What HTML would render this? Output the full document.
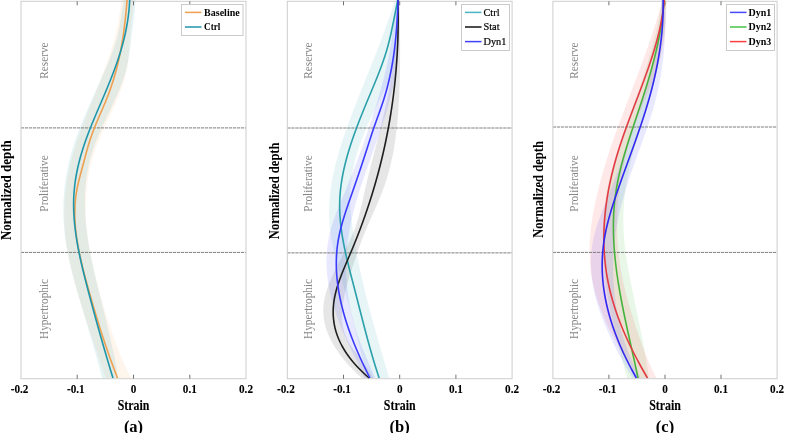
<!DOCTYPE html>
<html><head><meta charset="utf-8"><style>
html,body{margin:0;padding:0;background:#fff;width:785px;height:433px;overflow:hidden}
svg{display:block;filter:blur(0.35px)}
text{font-family:"Liberation Serif","Times New Roman",serif}
.tl{font-size:11.2px;font-weight:bold;text-anchor:middle;fill:#000;stroke:#000;stroke-width:0.08px}
.xl{font-size:11.9px;font-weight:bold;text-anchor:middle;fill:#000;stroke:#000;stroke-width:0.1px}
.pl{font-size:16.5px;font-weight:bold;text-anchor:middle;fill:#000}
.lg{font-size:10px;font-weight:bold;fill:#000}
.lgr{font-size:10.3px;fill:#000;stroke:#000;stroke-width:0.2px}
.yl{font-size:14.5px;font-weight:bold;text-anchor:middle;fill:#000;stroke:#000;stroke-width:0.05px}
.rl{font-size:12.8px;text-anchor:middle;fill:#858585}
</style></head><body>
<svg width="785" height="433" viewBox="0 0 785 433">
<rect width="785" height="433" fill="#fff"/>
<path d="M120.94 0.00L120.82 2.00L120.67 4.00L120.49 6.00L120.29 8.00L120.07 10.00L119.82 12.00L119.55 14.00L119.26 16.00L118.94 18.00L118.61 20.00L118.25 22.00L117.87 24.00L117.47 26.00L117.05 28.00L116.62 30.00L116.16 32.00L115.69 34.00L115.19 36.00L114.68 38.00L114.15 40.00L113.61 42.00L113.05 44.00L112.47 46.00L111.88 48.00L111.28 50.00L110.66 52.00L110.03 54.00L109.38 56.00L108.72 58.00L108.05 60.00L107.36 62.00L106.67 64.00L105.96 66.00L105.24 68.00L104.52 70.00L103.78 72.00L103.03 74.00L102.28 76.00L101.52 78.00L100.75 80.00L99.97 82.00L99.19 84.00L98.40 86.00L97.61 88.00L96.82 90.00L96.02 92.00L95.22 94.00L94.42 96.00L93.62 98.00L92.81 100.00L92.01 102.00L91.20 104.00L90.40 106.00L89.60 108.00L88.81 110.00L88.01 112.00L87.22 114.00L86.44 116.00L85.66 118.00L84.89 120.00L84.12 122.00L83.36 124.00L82.61 126.00L81.86 128.00L81.13 130.00L80.40 132.00L79.69 134.00L78.99 136.00L78.30 138.00L77.62 140.00L76.95 142.00L76.30 144.00L75.66 146.00L75.04 148.00L74.43 150.00L73.84 152.00L73.27 154.00L72.71 156.00L72.17 158.00L71.65 160.00L71.14 162.00L70.65 164.00L70.18 166.00L69.72 168.00L69.28 170.00L68.86 172.00L68.46 174.00L68.08 176.00L67.71 178.00L67.36 180.00L67.03 182.00L66.72 184.00L66.42 186.00L66.15 188.00L65.89 190.00L65.65 192.00L65.43 194.00L65.23 196.00L65.05 198.00L64.89 200.00L64.75 202.00L64.62 204.00L64.52 206.00L64.44 208.00L64.37 210.00L64.33 212.00L64.31 214.00L64.30 216.00L64.32 218.00L64.36 220.00L64.42 222.00L64.49 224.00L64.59 226.00L64.71 228.00L64.86 230.00L65.02 232.00L65.20 234.00L65.41 236.00L65.63 238.00L65.87 240.00L66.14 242.00L66.42 244.00L66.72 246.00L67.03 248.00L67.37 250.00L67.72 252.00L68.08 254.00L68.46 256.00L68.86 258.00L69.27 260.00L69.70 262.00L70.14 264.00L70.59 266.00L71.06 268.00L71.54 270.00L72.03 272.00L72.53 274.00L73.05 276.00L73.57 278.00L74.10 280.00L74.65 282.00L75.20 284.00L75.76 286.00L76.33 288.00L76.91 290.00L77.50 292.00L78.09 294.00L78.69 296.00L79.30 298.00L79.91 300.00L80.52 302.00L81.14 304.00L81.77 306.00L82.40 308.00L83.03 310.00L83.67 312.00L84.30 314.00L84.94 316.00L85.59 318.00L86.23 320.00L86.88 322.00L87.53 324.00L88.19 326.00L88.84 328.00L89.50 330.00L90.16 332.00L90.82 334.00L91.49 336.00L92.16 338.00L92.83 340.00L93.50 342.00L94.17 344.00L94.85 346.00L95.53 348.00L96.21 350.00L96.89 352.00L97.57 354.00L98.26 356.00L98.94 358.00L99.63 360.00L100.32 362.00L101.02 364.00L101.71 366.00L102.41 368.00L103.10 370.00L103.80 372.00L104.50 374.00L105.20 376.00L105.91 378.00L130.99 378.00L129.97 376.00L128.97 374.00L127.99 372.00L127.03 370.00L126.09 368.00L125.17 366.00L124.26 364.00L123.38 362.00L122.50 360.00L121.65 358.00L120.81 356.00L119.98 354.00L119.17 352.00L118.38 350.00L117.59 348.00L116.82 346.00L116.07 344.00L115.32 342.00L114.59 340.00L113.87 338.00L113.16 336.00L112.46 334.00L111.77 332.00L111.09 330.00L110.41 328.00L109.75 326.00L109.09 324.00L108.45 322.00L107.80 320.00L107.17 318.00L106.54 316.00L105.92 314.00L105.30 312.00L104.69 310.00L104.08 308.00L103.47 306.00L102.87 304.00L102.28 302.00L101.69 300.00L101.11 298.00L100.53 296.00L99.96 294.00L99.39 292.00L98.84 290.00L98.29 288.00L97.74 286.00L97.21 284.00L96.68 282.00L96.16 280.00L95.65 278.00L95.15 276.00L94.66 274.00L94.18 272.00L93.71 270.00L93.25 268.00L92.80 266.00L92.36 264.00L91.93 262.00L91.51 260.00L91.10 258.00L90.71 256.00L90.33 254.00L89.96 252.00L89.61 250.00L89.26 248.00L88.94 246.00L88.62 244.00L88.32 242.00L88.04 240.00L87.77 238.00L87.51 236.00L87.27 234.00L87.05 232.00L86.84 230.00L86.65 228.00L86.47 226.00L86.31 224.00L86.17 222.00L86.05 220.00L85.95 218.00L85.86 216.00L85.79 214.00L85.74 212.00L85.71 210.00L85.70 208.00L85.71 206.00L85.74 204.00L85.79 202.00L85.86 200.00L85.95 198.00L86.06 196.00L86.19 194.00L86.35 192.00L86.53 190.00L86.73 188.00L86.95 186.00L87.19 184.00L87.46 182.00L87.76 180.00L88.08 178.00L88.42 176.00L88.78 174.00L89.17 172.00L89.59 170.00L90.03 168.00L90.50 166.00L90.99 164.00L91.52 162.00L92.06 160.00L92.64 158.00L93.24 156.00L93.87 154.00L94.53 152.00L95.21 150.00L95.93 148.00L96.67 146.00L97.43 144.00L98.22 142.00L99.03 140.00L99.86 138.00L100.71 136.00L101.57 134.00L102.45 132.00L103.34 130.00L104.24 128.00L105.15 126.00L106.06 124.00L106.98 122.00L107.91 120.00L108.83 118.00L109.75 116.00L110.68 114.00L111.59 112.00L112.51 110.00L113.41 108.00L114.30 106.00L115.19 104.00L116.06 102.00L116.91 100.00L117.75 98.00L118.57 96.00L119.36 94.00L120.14 92.00L120.89 90.00L121.62 88.00L122.31 86.00L122.98 84.00L123.62 82.00L124.22 80.00L124.79 78.00L125.32 76.00L125.81 74.00L126.27 72.00L126.68 70.00L127.04 68.00L127.37 66.00L127.65 64.00L127.91 62.00L128.13 60.00L128.33 58.00L128.50 56.00L128.66 54.00L128.79 52.00L128.92 50.00L129.03 48.00L129.14 46.00L129.25 44.00L129.35 42.00L129.46 40.00L129.58 38.00L129.71 36.00L129.86 34.00L130.02 32.00L130.20 30.00L130.41 28.00L130.64 26.00L130.89 24.00L131.15 22.00L131.43 20.00L131.71 18.00L132.00 16.00L132.29 14.00L132.57 12.00L132.86 10.00L133.13 8.00L133.40 6.00L133.64 4.00L133.87 2.00L134.08 0.00Z" fill="#f5a050" fill-opacity="0.11" stroke="none"/>
<path d="M123.96 0.00L123.51 2.00L123.10 4.00L122.72 6.00L122.37 8.00L122.05 10.00L121.75 12.00L121.46 14.00L121.18 16.00L120.89 18.00L120.61 20.00L120.31 22.00L120.00 24.00L119.66 26.00L119.30 28.00L118.91 30.00L118.48 32.00L118.01 34.00L117.50 36.00L116.96 38.00L116.39 40.00L115.79 42.00L115.15 44.00L114.49 46.00L113.81 48.00L113.10 50.00L112.37 52.00L111.61 54.00L110.84 56.00L110.05 58.00L109.24 60.00L108.42 62.00L107.59 64.00L106.74 66.00L105.89 68.00L105.03 70.00L104.16 72.00L103.28 74.00L102.40 76.00L101.52 78.00L100.63 80.00L99.74 82.00L98.85 84.00L97.95 86.00L97.05 88.00L96.16 90.00L95.26 92.00L94.37 94.00L93.47 96.00L92.58 98.00L91.69 100.00L90.80 102.00L89.92 104.00L89.05 106.00L88.18 108.00L87.31 110.00L86.45 112.00L85.60 114.00L84.76 116.00L83.92 118.00L83.10 120.00L82.29 122.00L81.48 124.00L80.69 126.00L79.91 128.00L79.14 130.00L78.39 132.00L77.65 134.00L76.92 136.00L76.21 138.00L75.52 140.00L74.84 142.00L74.18 144.00L73.53 146.00L72.91 148.00L72.30 150.00L71.72 152.00L71.15 154.00L70.61 156.00L70.08 158.00L69.58 160.00L69.09 162.00L68.62 164.00L68.18 166.00L67.75 168.00L67.34 170.00L66.96 172.00L66.59 174.00L66.24 176.00L65.91 178.00L65.61 180.00L65.32 182.00L65.05 184.00L64.80 186.00L64.57 188.00L64.36 190.00L64.17 192.00L64.00 194.00L63.85 196.00L63.72 198.00L63.61 200.00L63.52 202.00L63.45 204.00L63.40 206.00L63.37 208.00L63.35 210.00L63.36 212.00L63.39 214.00L63.43 216.00L63.50 218.00L63.59 220.00L63.69 222.00L63.82 224.00L63.96 226.00L64.12 228.00L64.31 230.00L64.51 232.00L64.73 234.00L64.97 236.00L65.23 238.00L65.51 240.00L65.80 242.00L66.11 244.00L66.44 246.00L66.78 248.00L67.14 250.00L67.51 252.00L67.90 254.00L68.30 256.00L68.71 258.00L69.14 260.00L69.58 262.00L70.03 264.00L70.50 266.00L70.97 268.00L71.46 270.00L71.95 272.00L72.46 274.00L72.97 276.00L73.50 278.00L74.03 280.00L74.57 282.00L75.11 284.00L75.67 286.00L76.22 288.00L76.79 290.00L77.36 292.00L77.94 294.00L78.52 296.00L79.10 298.00L79.69 300.00L80.28 302.00L80.88 304.00L81.47 306.00L82.07 308.00L82.67 310.00L83.27 312.00L83.87 314.00L84.47 316.00L85.07 318.00L85.67 320.00L86.27 322.00L86.87 324.00L87.47 326.00L88.07 328.00L88.66 330.00L89.26 332.00L89.85 334.00L90.45 336.00L91.04 338.00L91.62 340.00L92.21 342.00L92.79 344.00L93.37 346.00L93.95 348.00L94.52 350.00L95.09 352.00L95.66 354.00L96.22 356.00L96.78 358.00L97.34 360.00L97.89 362.00L98.43 364.00L98.97 366.00L99.51 368.00L100.04 370.00L100.56 372.00L101.08 374.00L101.59 376.00L102.10 378.00L117.11 378.00L117.14 376.00L117.09 374.00L116.97 372.00L116.80 370.00L116.57 368.00L116.29 366.00L115.97 364.00L115.61 362.00L115.22 360.00L114.80 358.00L114.36 356.00L113.90 354.00L113.44 352.00L112.97 350.00L112.50 348.00L112.03 346.00L111.56 344.00L111.09 342.00L110.62 340.00L110.15 338.00L109.68 336.00L109.21 334.00L108.74 332.00L108.27 330.00L107.79 328.00L107.32 326.00L106.85 324.00L106.37 322.00L105.90 320.00L105.42 318.00L104.94 316.00L104.46 314.00L103.97 312.00L103.49 310.00L103.00 308.00L102.51 306.00L102.02 304.00L101.53 302.00L101.03 300.00L100.54 298.00L100.05 296.00L99.56 294.00L99.07 292.00L98.58 290.00L98.09 288.00L97.60 286.00L97.12 284.00L96.64 282.00L96.16 280.00L95.69 278.00L95.22 276.00L94.76 274.00L94.30 272.00L93.85 270.00L93.40 268.00L92.96 266.00L92.53 264.00L92.11 262.00L91.69 260.00L91.28 258.00L90.88 256.00L90.49 254.00L90.10 252.00L89.73 250.00L89.37 248.00L89.02 246.00L88.68 244.00L88.35 242.00L88.03 240.00L87.73 238.00L87.43 236.00L87.15 234.00L86.89 232.00L86.64 230.00L86.40 228.00L86.18 226.00L85.97 224.00L85.78 222.00L85.60 220.00L85.45 218.00L85.30 216.00L85.18 214.00L85.07 212.00L84.99 210.00L84.92 208.00L84.87 206.00L84.83 204.00L84.82 202.00L84.83 200.00L84.86 198.00L84.91 196.00L84.98 194.00L85.08 192.00L85.19 190.00L85.33 188.00L85.50 186.00L85.68 184.00L85.89 182.00L86.13 180.00L86.39 178.00L86.67 176.00L86.98 174.00L87.32 172.00L87.68 170.00L88.07 168.00L88.49 166.00L88.94 164.00L89.41 162.00L89.91 160.00L90.44 158.00L91.00 156.00L91.59 154.00L92.22 152.00L92.87 150.00L93.55 148.00L94.26 146.00L95.00 144.00L95.77 142.00L96.56 140.00L97.37 138.00L98.20 136.00L99.05 134.00L99.92 132.00L100.81 130.00L101.71 128.00L102.62 126.00L103.54 124.00L104.47 122.00L105.41 120.00L106.35 118.00L107.30 116.00L108.25 114.00L109.20 112.00L110.14 110.00L111.09 108.00L112.02 106.00L112.96 104.00L113.88 102.00L114.79 100.00L115.69 98.00L116.58 96.00L117.45 94.00L118.31 92.00L119.14 90.00L119.96 88.00L120.75 86.00L121.52 84.00L122.26 82.00L122.98 80.00L123.66 78.00L124.32 76.00L124.94 74.00L125.53 72.00L126.08 70.00L126.60 68.00L127.08 66.00L127.52 64.00L127.94 62.00L128.33 60.00L128.69 58.00L129.02 56.00L129.34 54.00L129.63 52.00L129.91 50.00L130.17 48.00L130.42 46.00L130.67 44.00L130.90 42.00L131.13 40.00L131.35 38.00L131.57 36.00L131.80 34.00L132.03 32.00L132.26 30.00L132.50 28.00L132.75 26.00L133.00 24.00L133.25 22.00L133.51 20.00L133.76 18.00L134.01 16.00L134.25 14.00L134.48 12.00L134.70 10.00L134.90 8.00L135.09 6.00L135.27 4.00L135.42 2.00L135.56 0.00Z" fill="#2a9aaa" fill-opacity="0.12" stroke="none"/>
<path d="M396.98 0.00L396.97 2.00L396.96 4.00L396.94 6.00L396.91 8.00L396.87 10.00L396.82 12.00L396.77 14.00L396.71 16.00L396.64 18.00L396.56 20.00L396.48 22.00L396.38 24.00L396.28 26.00L396.17 28.00L396.05 30.00L395.93 32.00L395.80 34.00L395.66 36.00L395.51 38.00L395.35 40.00L395.18 42.00L395.01 44.00L394.83 46.00L394.64 48.00L394.45 50.00L394.24 52.00L394.03 54.00L393.81 56.00L393.58 58.00L393.34 60.00L393.10 62.00L392.85 64.00L392.59 66.00L392.32 68.00L392.04 70.00L391.76 72.00L391.46 74.00L391.16 76.00L390.86 78.00L390.54 80.00L390.21 82.00L389.88 84.00L389.54 86.00L389.19 88.00L388.84 90.00L388.47 92.00L388.10 94.00L387.72 96.00L387.33 98.00L386.93 100.00L386.53 102.00L386.12 104.00L385.70 106.00L385.27 108.00L384.83 110.00L384.39 112.00L383.93 114.00L383.47 116.00L383.01 118.00L382.54 120.00L382.06 122.00L381.57 124.00L381.08 126.00L380.59 128.00L380.09 130.00L379.58 132.00L379.08 134.00L378.56 136.00L378.05 138.00L377.53 140.00L377.02 142.00L376.50 144.00L375.97 146.00L375.45 148.00L374.93 150.00L374.40 152.00L373.88 154.00L373.36 156.00L372.83 158.00L372.31 160.00L371.79 162.00L371.28 164.00L370.76 166.00L370.25 168.00L369.74 170.00L369.24 172.00L368.74 174.00L368.24 176.00L367.75 178.00L367.26 180.00L366.78 182.00L366.31 184.00L365.84 186.00L365.38 188.00L364.92 190.00L364.47 192.00L364.03 194.00L363.59 196.00L363.15 198.00L362.71 200.00L362.27 202.00L361.82 204.00L361.36 206.00L360.89 208.00L360.40 210.00L359.90 212.00L359.39 214.00L358.85 216.00L358.29 218.00L357.70 220.00L357.09 222.00L356.45 224.00L355.77 226.00L355.07 228.00L354.32 230.00L353.54 232.00L352.72 234.00L351.87 236.00L350.99 238.00L350.08 240.00L349.15 242.00L348.19 244.00L347.22 246.00L346.23 248.00L345.23 250.00L344.21 252.00L343.19 254.00L342.17 256.00L341.14 258.00L340.12 260.00L339.10 262.00L338.08 264.00L337.08 266.00L336.09 268.00L335.11 270.00L334.15 272.00L333.21 274.00L332.30 276.00L331.42 278.00L330.56 280.00L329.74 282.00L328.95 284.00L328.20 286.00L327.49 288.00L326.83 290.00L326.21 292.00L325.64 294.00L325.12 296.00L324.67 298.00L324.26 300.00L323.92 302.00L323.65 304.00L323.44 306.00L323.30 308.00L323.23 310.00L323.24 312.00L323.32 314.00L323.48 316.00L323.71 318.00L324.01 320.00L324.38 322.00L324.82 324.00L325.34 326.00L325.92 328.00L326.57 330.00L327.29 332.00L328.08 334.00L328.93 336.00L329.85 338.00L330.83 340.00L331.88 342.00L332.99 344.00L334.17 346.00L335.41 348.00L336.71 350.00L338.09 352.00L339.52 354.00L341.02 356.00L342.59 358.00L344.22 360.00L345.92 362.00L347.69 364.00L349.52 366.00L351.43 368.00L353.39 370.00L355.43 372.00L357.53 374.00L359.71 376.00L361.95 378.00L373.11 378.00L372.11 376.00L371.01 374.00L369.81 372.00L368.52 370.00L367.17 368.00L365.75 366.00L364.29 364.00L362.79 362.00L361.28 360.00L359.75 358.00L358.22 356.00L356.71 354.00L355.22 352.00L353.77 350.00L352.37 348.00L351.04 346.00L349.78 344.00L348.60 342.00L347.53 340.00L346.56 338.00L345.70 336.00L344.94 334.00L344.28 332.00L343.71 330.00L343.24 328.00L342.84 326.00L342.53 324.00L342.29 322.00L342.13 320.00L342.03 318.00L342.00 316.00L342.02 314.00L342.10 312.00L342.23 310.00L342.40 308.00L342.62 306.00L342.88 304.00L343.18 302.00L343.51 300.00L343.88 298.00L344.29 296.00L344.72 294.00L345.18 292.00L345.67 290.00L346.18 288.00L346.72 286.00L347.28 284.00L347.85 282.00L348.44 280.00L349.04 278.00L349.66 276.00L350.29 274.00L350.92 272.00L351.56 270.00L352.20 268.00L352.85 266.00L353.50 264.00L354.15 262.00L354.82 260.00L355.48 258.00L356.16 256.00L356.84 254.00L357.53 252.00L358.23 250.00L358.94 248.00L359.66 246.00L360.39 244.00L361.13 242.00L361.89 240.00L362.65 238.00L363.43 236.00L364.22 234.00L365.03 232.00L365.85 230.00L366.69 228.00L367.54 226.00L368.40 224.00L369.27 222.00L370.15 220.00L371.03 218.00L371.92 216.00L372.81 214.00L373.70 212.00L374.58 210.00L375.47 208.00L376.34 206.00L377.21 204.00L378.07 202.00L378.92 200.00L379.75 198.00L380.57 196.00L381.37 194.00L382.14 192.00L382.90 190.00L383.64 188.00L384.35 186.00L385.04 184.00L385.70 182.00L386.35 180.00L386.97 178.00L387.57 176.00L388.15 174.00L388.71 172.00L389.25 170.00L389.77 168.00L390.27 166.00L390.75 164.00L391.22 162.00L391.67 160.00L392.10 158.00L392.51 156.00L392.91 154.00L393.29 152.00L393.65 150.00L394.00 148.00L394.34 146.00L394.66 144.00L394.97 142.00L395.26 140.00L395.54 138.00L395.81 136.00L396.06 134.00L396.31 132.00L396.54 130.00L396.76 128.00L396.97 126.00L397.17 124.00L397.37 122.00L397.55 120.00L397.72 118.00L397.89 116.00L398.04 114.00L398.19 112.00L398.34 110.00L398.47 108.00L398.60 106.00L398.73 104.00L398.84 102.00L398.95 100.00L399.06 98.00L399.16 96.00L399.25 94.00L399.34 92.00L399.42 90.00L399.50 88.00L399.57 86.00L399.63 84.00L399.69 82.00L399.75 80.00L399.80 78.00L399.85 76.00L399.89 74.00L399.93 72.00L399.97 70.00L400.00 68.00L400.02 66.00L400.04 64.00L400.06 62.00L400.08 60.00L400.09 58.00L400.10 56.00L400.10 54.00L400.11 52.00L400.10 50.00L400.10 48.00L400.09 46.00L400.09 44.00L400.07 42.00L400.06 40.00L400.05 38.00L400.03 36.00L400.01 34.00L399.99 32.00L399.96 30.00L399.94 28.00L399.91 26.00L399.89 24.00L399.86 22.00L399.83 20.00L399.80 18.00L399.77 16.00L399.74 14.00L399.71 12.00L399.67 10.00L399.64 8.00L399.61 6.00L399.58 4.00L399.54 2.00L399.51 0.00Z" fill="#404040" fill-opacity="0.13" stroke="none"/>
<path d="M394.98 0.00L394.37 2.00L393.74 4.00L393.11 6.00L392.47 8.00L391.82 10.00L391.16 12.00L390.49 14.00L389.82 16.00L389.13 18.00L388.44 20.00L387.74 22.00L387.03 24.00L386.32 26.00L385.59 28.00L384.87 30.00L384.13 32.00L383.39 34.00L382.65 36.00L381.90 38.00L381.14 40.00L380.38 42.00L379.61 44.00L378.84 46.00L378.07 48.00L377.29 50.00L376.51 52.00L375.72 54.00L374.93 56.00L374.14 58.00L373.35 60.00L372.55 62.00L371.75 64.00L370.95 66.00L370.15 68.00L369.35 70.00L368.55 72.00L367.74 74.00L366.94 76.00L366.13 78.00L365.33 80.00L364.52 82.00L363.72 84.00L362.92 86.00L362.12 88.00L361.32 90.00L360.52 92.00L359.72 94.00L358.93 96.00L358.13 98.00L357.35 100.00L356.56 102.00L355.78 104.00L355.00 106.00L354.22 108.00L353.45 110.00L352.69 112.00L351.92 114.00L351.17 116.00L350.42 118.00L349.67 120.00L348.93 122.00L348.20 124.00L347.48 126.00L346.76 128.00L346.05 130.00L345.35 132.00L344.66 134.00L343.98 136.00L343.31 138.00L342.64 140.00L341.99 142.00L341.35 144.00L340.72 146.00L340.10 148.00L339.50 150.00L338.91 152.00L338.33 154.00L337.76 156.00L337.21 158.00L336.67 160.00L336.15 162.00L335.64 164.00L335.15 166.00L334.67 168.00L334.21 170.00L333.77 172.00L333.34 174.00L332.93 176.00L332.54 178.00L332.17 180.00L331.81 182.00L331.48 184.00L331.16 186.00L330.87 188.00L330.60 190.00L330.34 192.00L330.11 194.00L329.90 196.00L329.71 198.00L329.55 200.00L329.40 202.00L329.28 204.00L329.19 206.00L329.12 208.00L329.07 210.00L329.05 212.00L329.05 214.00L329.08 216.00L329.14 218.00L329.22 220.00L329.33 222.00L329.46 224.00L329.63 226.00L329.82 228.00L330.04 230.00L330.29 232.00L330.57 234.00L330.88 236.00L331.21 238.00L331.56 240.00L331.94 242.00L332.34 244.00L332.76 246.00L333.19 248.00L333.65 250.00L334.12 252.00L334.61 254.00L335.11 256.00L335.62 258.00L336.15 260.00L336.68 262.00L337.22 264.00L337.77 266.00L338.33 268.00L338.89 270.00L339.46 272.00L340.03 274.00L340.60 276.00L341.17 278.00L341.75 280.00L342.32 282.00L342.90 284.00L343.48 286.00L344.05 288.00L344.63 290.00L345.20 292.00L345.78 294.00L346.35 296.00L346.91 298.00L347.47 300.00L348.03 302.00L348.59 304.00L349.14 306.00L349.68 308.00L350.22 310.00L350.75 312.00L351.27 314.00L351.79 316.00L352.30 318.00L352.81 320.00L353.32 322.00L353.82 324.00L354.32 326.00L354.82 328.00L355.31 330.00L355.81 332.00L356.31 334.00L356.80 336.00L357.30 338.00L357.79 340.00L358.29 342.00L358.80 344.00L359.30 346.00L359.82 348.00L360.34 350.00L360.86 352.00L361.40 354.00L361.94 356.00L362.50 358.00L363.07 360.00L363.65 362.00L364.24 364.00L364.85 366.00L365.48 368.00L366.13 370.00L366.79 372.00L367.47 374.00L368.18 376.00L368.90 378.00L389.17 378.00L388.58 376.00L387.99 374.00L387.40 372.00L386.81 370.00L386.22 368.00L385.63 366.00L385.04 364.00L384.46 362.00L383.87 360.00L383.28 358.00L382.70 356.00L382.11 354.00L381.53 352.00L380.95 350.00L380.37 348.00L379.79 346.00L379.21 344.00L378.64 342.00L378.06 340.00L377.49 338.00L376.92 336.00L376.36 334.00L375.79 332.00L375.23 330.00L374.67 328.00L374.11 326.00L373.56 324.00L373.01 322.00L372.46 320.00L371.91 318.00L371.37 316.00L370.83 314.00L370.30 312.00L369.77 310.00L369.24 308.00L368.71 306.00L368.19 304.00L367.68 302.00L367.17 300.00L366.66 298.00L366.16 296.00L365.66 294.00L365.16 292.00L364.67 290.00L364.19 288.00L363.71 286.00L363.24 284.00L362.77 282.00L362.30 280.00L361.85 278.00L361.39 276.00L360.95 274.00L360.51 272.00L360.07 270.00L359.64 268.00L359.22 266.00L358.80 264.00L358.39 262.00L357.99 260.00L357.59 258.00L357.20 256.00L356.82 254.00L356.44 252.00L356.08 250.00L355.71 248.00L355.36 246.00L355.01 244.00L354.67 242.00L354.34 240.00L354.02 238.00L353.70 236.00L353.39 234.00L353.09 232.00L352.80 230.00L352.52 228.00L352.24 226.00L351.98 224.00L351.73 222.00L351.49 220.00L351.27 218.00L351.06 216.00L350.87 214.00L350.69 212.00L350.54 210.00L350.40 208.00L350.28 206.00L350.19 204.00L350.12 202.00L350.08 200.00L350.06 198.00L350.07 196.00L350.10 194.00L350.17 192.00L350.26 190.00L350.39 188.00L350.55 186.00L350.73 184.00L350.95 182.00L351.20 180.00L351.47 178.00L351.78 176.00L352.11 174.00L352.47 172.00L352.86 170.00L353.27 168.00L353.71 166.00L354.18 164.00L354.67 162.00L355.18 160.00L355.72 158.00L356.29 156.00L356.87 154.00L357.48 152.00L358.11 150.00L358.76 148.00L359.43 146.00L360.13 144.00L360.84 142.00L361.57 140.00L362.32 138.00L363.10 136.00L363.88 134.00L364.69 132.00L365.51 130.00L366.35 128.00L367.21 126.00L368.08 124.00L368.97 122.00L369.87 120.00L370.78 118.00L371.71 116.00L372.66 114.00L373.61 112.00L374.58 110.00L375.56 108.00L376.54 106.00L377.54 104.00L378.53 102.00L379.52 100.00L380.51 98.00L381.49 96.00L382.46 94.00L383.42 92.00L384.36 90.00L385.28 88.00L386.17 86.00L387.04 84.00L387.88 82.00L388.68 80.00L389.45 78.00L390.18 76.00L390.87 74.00L391.51 72.00L392.10 70.00L392.64 68.00L393.12 66.00L393.57 64.00L393.96 62.00L394.32 60.00L394.64 58.00L394.92 56.00L395.17 54.00L395.38 52.00L395.57 50.00L395.73 48.00L395.87 46.00L395.99 44.00L396.10 42.00L396.18 40.00L396.26 38.00L396.33 36.00L396.39 34.00L396.44 32.00L396.50 30.00L396.55 28.00L396.61 26.00L396.68 24.00L396.76 22.00L396.85 20.00L396.95 18.00L397.07 16.00L397.21 14.00L397.38 12.00L397.57 10.00L397.79 8.00L398.04 6.00L398.32 4.00L398.64 2.00L399.00 0.00Z" fill="#40b0c0" fill-opacity="0.12" stroke="none"/>
<path d="M396.99 0.00L396.74 2.00L396.48 4.00L396.23 6.00L395.97 8.00L395.71 10.00L395.46 12.00L395.20 14.00L394.94 16.00L394.67 18.00L394.41 20.00L394.14 22.00L393.87 24.00L393.59 26.00L393.31 28.00L393.03 30.00L392.74 32.00L392.44 34.00L392.14 36.00L391.83 38.00L391.52 40.00L391.20 42.00L390.87 44.00L390.54 46.00L390.19 48.00L389.84 50.00L389.48 52.00L389.11 54.00L388.73 56.00L388.34 58.00L387.94 60.00L387.53 62.00L387.11 64.00L386.68 66.00L386.24 68.00L385.78 70.00L385.31 72.00L384.83 74.00L384.33 76.00L383.83 78.00L383.31 80.00L382.79 82.00L382.25 84.00L381.71 86.00L381.15 88.00L380.59 90.00L380.02 92.00L379.44 94.00L378.85 96.00L378.26 98.00L377.66 100.00L377.05 102.00L376.44 104.00L375.82 106.00L375.20 108.00L374.57 110.00L373.94 112.00L373.31 114.00L372.67 116.00L372.03 118.00L371.38 120.00L370.73 122.00L370.08 124.00L369.42 126.00L368.76 128.00L368.09 130.00L367.42 132.00L366.74 134.00L366.06 136.00L365.37 138.00L364.68 140.00L363.99 142.00L363.29 144.00L362.58 146.00L361.87 148.00L361.16 150.00L360.44 152.00L359.71 154.00L358.98 156.00L358.24 158.00L357.50 160.00L356.76 162.00L356.00 164.00L355.24 166.00L354.48 168.00L353.71 170.00L352.93 172.00L352.15 174.00L351.37 176.00L350.57 178.00L349.77 180.00L348.97 182.00L348.15 184.00L347.34 186.00L346.51 188.00L345.68 190.00L344.84 192.00L344.00 194.00L343.16 196.00L342.32 198.00L341.47 200.00L340.64 202.00L339.81 204.00L338.98 206.00L338.17 208.00L337.38 210.00L336.59 212.00L335.83 214.00L335.08 216.00L334.35 218.00L333.65 220.00L332.98 222.00L332.33 224.00L331.71 226.00L331.13 228.00L330.58 230.00L330.06 232.00L329.58 234.00L329.14 236.00L328.74 238.00L328.36 240.00L328.03 242.00L327.73 244.00L327.46 246.00L327.22 248.00L327.02 250.00L326.85 252.00L326.72 254.00L326.62 256.00L326.54 258.00L326.50 260.00L326.50 262.00L326.52 264.00L326.57 266.00L326.65 268.00L326.77 270.00L326.91 272.00L327.08 274.00L327.28 276.00L327.51 278.00L327.76 280.00L328.04 282.00L328.35 284.00L328.69 286.00L329.06 288.00L329.45 290.00L329.86 292.00L330.30 294.00L330.77 296.00L331.26 298.00L331.77 300.00L332.31 302.00L332.87 304.00L333.46 306.00L334.06 308.00L334.69 310.00L335.35 312.00L336.02 314.00L336.72 316.00L337.43 318.00L338.17 320.00L338.93 322.00L339.70 324.00L340.50 326.00L341.32 328.00L342.15 330.00L343.00 332.00L343.87 334.00L344.76 336.00L345.67 338.00L346.59 340.00L347.53 342.00L348.48 344.00L349.45 346.00L350.42 348.00L351.40 350.00L352.38 352.00L353.36 354.00L354.34 356.00L355.31 358.00L356.27 360.00L357.23 362.00L358.16 364.00L359.09 366.00L359.99 368.00L360.87 370.00L361.72 372.00L362.55 374.00L363.35 376.00L364.11 378.00L375.17 378.00L374.33 376.00L373.47 374.00L372.62 372.00L371.76 370.00L370.89 368.00L370.03 366.00L369.16 364.00L368.30 362.00L367.44 360.00L366.59 358.00L365.74 356.00L364.91 354.00L364.08 352.00L363.26 350.00L362.45 348.00L361.66 346.00L360.89 344.00L360.13 342.00L359.39 340.00L358.67 338.00L357.97 336.00L357.30 334.00L356.64 332.00L356.00 330.00L355.38 328.00L354.79 326.00L354.21 324.00L353.65 322.00L353.12 320.00L352.60 318.00L352.11 316.00L351.63 314.00L351.17 312.00L350.74 310.00L350.32 308.00L349.93 306.00L349.55 304.00L349.19 302.00L348.86 300.00L348.54 298.00L348.25 296.00L347.97 294.00L347.71 292.00L347.48 290.00L347.26 288.00L347.06 286.00L346.88 284.00L346.73 282.00L346.59 280.00L346.47 278.00L346.37 276.00L346.29 274.00L346.23 272.00L346.19 270.00L346.17 268.00L346.17 266.00L346.19 264.00L346.23 262.00L346.29 260.00L346.36 258.00L346.46 256.00L346.58 254.00L346.71 252.00L346.87 250.00L347.04 248.00L347.23 246.00L347.44 244.00L347.68 242.00L347.93 240.00L348.20 238.00L348.49 236.00L348.79 234.00L349.12 232.00L349.47 230.00L349.83 228.00L350.22 226.00L350.62 224.00L351.04 222.00L351.48 220.00L351.93 218.00L352.40 216.00L352.88 214.00L353.38 212.00L353.90 210.00L354.43 208.00L354.97 206.00L355.52 204.00L356.09 202.00L356.67 200.00L357.26 198.00L357.86 196.00L358.48 194.00L359.10 192.00L359.73 190.00L360.37 188.00L361.02 186.00L361.68 184.00L362.34 182.00L363.02 180.00L363.69 178.00L364.38 176.00L365.07 174.00L365.76 172.00L366.46 170.00L367.16 168.00L367.87 166.00L368.58 164.00L369.29 162.00L370.01 160.00L370.72 158.00L371.44 156.00L372.15 154.00L372.87 152.00L373.58 150.00L374.30 148.00L375.01 146.00L375.72 144.00L376.43 142.00L377.14 140.00L377.84 138.00L378.53 136.00L379.23 134.00L379.91 132.00L380.59 130.00L381.27 128.00L381.94 126.00L382.60 124.00L383.25 122.00L383.90 120.00L384.54 118.00L385.16 116.00L385.78 114.00L386.39 112.00L386.99 110.00L387.57 108.00L388.15 106.00L388.71 104.00L389.26 102.00L389.80 100.00L390.32 98.00L390.83 96.00L391.33 94.00L391.81 92.00L392.28 90.00L392.73 88.00L393.17 86.00L393.59 84.00L394.00 82.00L394.39 80.00L394.76 78.00L395.11 76.00L395.45 74.00L395.77 72.00L396.07 70.00L396.36 68.00L396.62 66.00L396.87 64.00L397.10 62.00L397.31 60.00L397.51 58.00L397.69 56.00L397.86 54.00L398.02 52.00L398.16 50.00L398.29 48.00L398.41 46.00L398.52 44.00L398.62 42.00L398.71 40.00L398.79 38.00L398.86 36.00L398.93 34.00L398.98 32.00L399.03 30.00L399.08 28.00L399.12 26.00L399.16 24.00L399.19 22.00L399.22 20.00L399.24 18.00L399.27 16.00L399.29 14.00L399.32 12.00L399.34 10.00L399.37 8.00L399.39 6.00L399.42 4.00L399.45 2.00L399.49 0.00Z" fill="#4040ff" fill-opacity="0.12" stroke="none"/>
<path d="M662.06 0.00L661.77 2.00L661.47 4.00L661.15 6.00L660.83 8.00L660.49 10.00L660.13 12.00L659.77 14.00L659.39 16.00L659.00 18.00L658.60 20.00L658.19 22.00L657.77 24.00L657.34 26.00L656.89 28.00L656.44 30.00L655.97 32.00L655.49 34.00L655.01 36.00L654.51 38.00L654.00 40.00L653.49 42.00L652.96 44.00L652.43 46.00L651.89 48.00L651.34 50.00L650.78 52.00L650.21 54.00L649.63 56.00L649.05 58.00L648.46 60.00L647.86 62.00L647.25 64.00L646.64 66.00L646.02 68.00L645.39 70.00L644.76 72.00L644.11 74.00L643.47 76.00L642.82 78.00L642.16 80.00L641.49 82.00L640.83 84.00L640.15 86.00L639.47 88.00L638.79 90.00L638.10 92.00L637.41 94.00L636.71 96.00L636.01 98.00L635.31 100.00L634.60 102.00L633.89 104.00L633.17 106.00L632.46 108.00L631.74 110.00L631.02 112.00L630.30 114.00L629.58 116.00L628.86 118.00L628.15 120.00L627.43 122.00L626.71 124.00L626.00 126.00L625.29 128.00L624.58 130.00L623.88 132.00L623.18 134.00L622.48 136.00L621.79 138.00L621.11 140.00L620.43 142.00L619.75 144.00L619.09 146.00L618.43 148.00L617.78 150.00L617.14 152.00L616.51 154.00L615.88 156.00L615.27 158.00L614.66 160.00L614.07 162.00L613.49 164.00L612.92 166.00L612.36 168.00L611.82 170.00L611.28 172.00L610.77 174.00L610.26 176.00L609.77 178.00L609.30 180.00L608.84 182.00L608.39 184.00L607.97 186.00L607.56 188.00L607.17 190.00L606.79 192.00L606.43 194.00L606.10 196.00L605.77 198.00L605.47 200.00L605.18 202.00L604.91 204.00L604.66 206.00L604.42 208.00L604.20 210.00L603.99 212.00L603.81 214.00L603.63 216.00L603.48 218.00L603.33 220.00L603.21 222.00L603.10 224.00L603.00 226.00L602.92 228.00L602.85 230.00L602.80 232.00L602.77 234.00L602.74 236.00L602.73 238.00L602.74 240.00L602.76 242.00L602.79 244.00L602.84 246.00L602.90 248.00L602.97 250.00L603.05 252.00L603.15 254.00L603.26 256.00L603.38 258.00L603.52 260.00L603.66 262.00L603.82 264.00L603.99 266.00L604.18 268.00L604.37 270.00L604.57 272.00L604.79 274.00L605.02 276.00L605.25 278.00L605.50 280.00L605.76 282.00L606.03 284.00L606.31 286.00L606.60 288.00L606.90 290.00L607.20 292.00L607.52 294.00L607.85 296.00L608.18 298.00L608.53 300.00L608.88 302.00L609.24 304.00L609.61 306.00L609.99 308.00L610.38 310.00L610.77 312.00L611.17 314.00L611.58 316.00L612.00 318.00L612.43 320.00L612.86 322.00L613.30 324.00L613.74 326.00L614.19 328.00L614.65 330.00L615.11 332.00L615.58 334.00L616.06 336.00L616.54 338.00L617.03 340.00L617.52 342.00L618.02 344.00L618.52 346.00L619.03 348.00L619.54 350.00L620.06 352.00L620.58 354.00L621.11 356.00L621.64 358.00L622.17 360.00L622.71 362.00L623.25 364.00L623.80 366.00L624.34 368.00L624.90 370.00L625.45 372.00L626.01 374.00L626.56 376.00L627.13 378.00L648.88 378.00L648.61 376.00L648.32 374.00L648.03 372.00L647.74 370.00L647.43 368.00L647.12 366.00L646.80 364.00L646.48 362.00L646.14 360.00L645.81 358.00L645.46 356.00L645.11 354.00L644.76 352.00L644.40 350.00L644.03 348.00L643.66 346.00L643.29 344.00L642.91 342.00L642.53 340.00L642.14 338.00L641.75 336.00L641.36 334.00L640.96 332.00L640.56 330.00L640.16 328.00L639.75 326.00L639.34 324.00L638.93 322.00L638.52 320.00L638.11 318.00L637.69 316.00L637.28 314.00L636.86 312.00L636.45 310.00L636.03 308.00L635.61 306.00L635.19 304.00L634.78 302.00L634.36 300.00L633.94 298.00L633.53 296.00L633.11 294.00L632.70 292.00L632.29 290.00L631.88 288.00L631.47 286.00L631.07 284.00L630.67 282.00L630.28 280.00L629.89 278.00L629.50 276.00L629.12 274.00L628.75 272.00L628.38 270.00L628.03 268.00L627.68 266.00L627.34 264.00L627.01 262.00L626.69 260.00L626.39 258.00L626.09 256.00L625.81 254.00L625.54 252.00L625.28 250.00L625.04 248.00L624.81 246.00L624.60 244.00L624.40 242.00L624.22 240.00L624.06 238.00L623.91 236.00L623.78 234.00L623.67 232.00L623.57 230.00L623.49 228.00L623.43 226.00L623.39 224.00L623.36 222.00L623.35 220.00L623.36 218.00L623.39 216.00L623.43 214.00L623.49 212.00L623.57 210.00L623.67 208.00L623.79 206.00L623.92 204.00L624.07 202.00L624.24 200.00L624.43 198.00L624.64 196.00L624.87 194.00L625.11 192.00L625.38 190.00L625.66 188.00L625.96 186.00L626.28 184.00L626.61 182.00L626.97 180.00L627.34 178.00L627.72 176.00L628.12 174.00L628.54 172.00L628.96 170.00L629.41 168.00L629.86 166.00L630.33 164.00L630.81 162.00L631.30 160.00L631.81 158.00L632.32 156.00L632.84 154.00L633.37 152.00L633.92 150.00L634.47 148.00L635.02 146.00L635.59 144.00L636.16 142.00L636.74 140.00L637.32 138.00L637.91 136.00L638.50 134.00L639.10 132.00L639.70 130.00L640.31 128.00L640.92 126.00L641.53 124.00L642.14 122.00L642.75 120.00L643.36 118.00L643.97 116.00L644.59 114.00L645.20 112.00L645.81 110.00L646.41 108.00L647.02 106.00L647.62 104.00L648.22 102.00L648.81 100.00L649.40 98.00L649.98 96.00L650.56 94.00L651.13 92.00L651.70 90.00L652.26 88.00L652.81 86.00L653.36 84.00L653.90 82.00L654.43 80.00L654.96 78.00L655.47 76.00L655.98 74.00L656.48 72.00L656.97 70.00L657.45 68.00L657.92 66.00L658.38 64.00L658.83 62.00L659.27 60.00L659.70 58.00L660.12 56.00L660.52 54.00L660.92 52.00L661.30 50.00L661.67 48.00L662.02 46.00L662.37 44.00L662.70 42.00L663.02 40.00L663.32 38.00L663.61 36.00L663.88 34.00L664.14 32.00L664.38 30.00L664.61 28.00L664.82 26.00L665.02 24.00L665.20 22.00L665.36 20.00L665.51 18.00L665.64 16.00L665.75 14.00L665.84 12.00L665.91 10.00L665.97 8.00L666.00 6.00L666.02 4.00L666.02 2.00L666.00 0.00Z" fill="#40c040" fill-opacity="0.12" stroke="none"/>
<path d="M662.41 0.00L661.87 2.00L661.33 4.00L660.77 6.00L660.21 8.00L659.63 10.00L659.05 12.00L658.47 14.00L657.87 16.00L657.27 18.00L656.66 20.00L656.04 22.00L655.41 24.00L654.78 26.00L654.14 28.00L653.50 30.00L652.85 32.00L652.19 34.00L651.52 36.00L650.85 38.00L650.18 40.00L649.50 42.00L648.81 44.00L648.12 46.00L647.42 48.00L646.72 50.00L646.02 52.00L645.31 54.00L644.59 56.00L643.87 58.00L643.15 60.00L642.42 62.00L641.69 64.00L640.96 66.00L640.22 68.00L639.48 70.00L638.74 72.00L638.00 74.00L637.25 76.00L636.50 78.00L635.74 80.00L634.99 82.00L634.23 84.00L633.47 86.00L632.71 88.00L631.95 90.00L631.19 92.00L630.43 94.00L629.66 96.00L628.90 98.00L628.13 100.00L627.37 102.00L626.60 104.00L625.83 106.00L625.07 108.00L624.31 110.00L623.54 112.00L622.78 114.00L622.02 116.00L621.27 118.00L620.52 120.00L619.77 122.00L619.02 124.00L618.28 126.00L617.54 128.00L616.81 130.00L616.08 132.00L615.35 134.00L614.64 136.00L613.93 138.00L613.22 140.00L612.52 142.00L611.83 144.00L611.15 146.00L610.47 148.00L609.80 150.00L609.14 152.00L608.49 154.00L607.85 156.00L607.22 158.00L606.59 160.00L605.98 162.00L605.37 164.00L604.77 166.00L604.18 168.00L603.59 170.00L603.02 172.00L602.45 174.00L601.90 176.00L601.35 178.00L600.81 180.00L600.28 182.00L599.75 184.00L599.24 186.00L598.73 188.00L598.23 190.00L597.74 192.00L597.26 194.00L596.79 196.00L596.32 198.00L595.87 200.00L595.43 202.00L595.00 204.00L594.59 206.00L594.18 208.00L593.79 210.00L593.42 212.00L593.05 214.00L592.70 216.00L592.37 218.00L592.06 220.00L591.76 222.00L591.47 224.00L591.21 226.00L590.96 228.00L590.73 230.00L590.52 232.00L590.33 234.00L590.16 236.00L590.02 238.00L589.89 240.00L589.78 242.00L589.70 244.00L589.64 246.00L589.60 248.00L589.59 250.00L589.60 252.00L589.63 254.00L589.69 256.00L589.77 258.00L589.87 260.00L590.00 262.00L590.16 264.00L590.34 266.00L590.54 268.00L590.77 270.00L591.02 272.00L591.30 274.00L591.61 276.00L591.94 278.00L592.30 280.00L592.69 282.00L593.10 284.00L593.54 286.00L594.01 288.00L594.50 290.00L595.02 292.00L595.57 294.00L596.15 296.00L596.75 298.00L597.38 300.00L598.04 302.00L598.72 304.00L599.42 306.00L600.16 308.00L600.91 310.00L601.69 312.00L602.50 314.00L603.33 316.00L604.18 318.00L605.05 320.00L605.95 322.00L606.87 324.00L607.81 326.00L608.77 328.00L609.76 330.00L610.76 332.00L611.79 334.00L612.84 336.00L613.90 338.00L614.99 340.00L616.09 342.00L617.22 344.00L618.36 346.00L619.52 348.00L620.70 350.00L621.89 352.00L623.10 354.00L624.32 356.00L625.55 358.00L626.80 360.00L628.07 362.00L629.34 364.00L630.63 366.00L631.92 368.00L633.23 370.00L634.54 372.00L635.87 374.00L637.20 376.00L638.54 378.00L656.50 378.00L655.40 376.00L654.34 374.00L653.32 372.00L652.33 370.00L651.37 368.00L650.44 366.00L649.53 364.00L648.66 362.00L647.81 360.00L646.98 358.00L646.18 356.00L645.39 354.00L644.62 352.00L643.87 350.00L643.14 348.00L642.41 346.00L641.70 344.00L641.00 342.00L640.31 340.00L639.62 338.00L638.94 336.00L638.26 334.00L637.59 332.00L636.93 330.00L636.27 328.00L635.62 326.00L634.97 324.00L634.33 322.00L633.69 320.00L633.06 318.00L632.43 316.00L631.81 314.00L631.20 312.00L630.59 310.00L629.99 308.00L629.40 306.00L628.82 304.00L628.25 302.00L627.69 300.00L627.14 298.00L626.60 296.00L626.08 294.00L625.57 292.00L625.07 290.00L624.59 288.00L624.13 286.00L623.67 284.00L623.24 282.00L622.82 280.00L622.41 278.00L622.02 276.00L621.64 274.00L621.28 272.00L620.94 270.00L620.60 268.00L620.29 266.00L619.99 264.00L619.70 262.00L619.43 260.00L619.17 258.00L618.93 256.00L618.70 254.00L618.49 252.00L618.29 250.00L618.11 248.00L617.94 246.00L617.79 244.00L617.65 242.00L617.53 240.00L617.42 238.00L617.33 236.00L617.25 234.00L617.19 232.00L617.14 230.00L617.11 228.00L617.09 226.00L617.09 224.00L617.10 222.00L617.13 220.00L617.17 218.00L617.23 216.00L617.30 214.00L617.38 212.00L617.49 210.00L617.60 208.00L617.73 206.00L617.88 204.00L618.04 202.00L618.22 200.00L618.41 198.00L618.61 196.00L618.83 194.00L619.07 192.00L619.32 190.00L619.58 188.00L619.86 186.00L620.16 184.00L620.47 182.00L620.79 180.00L621.13 178.00L621.48 176.00L621.85 174.00L622.23 172.00L622.62 170.00L623.03 168.00L623.46 166.00L623.89 164.00L624.34 162.00L624.81 160.00L625.29 158.00L625.78 156.00L626.28 154.00L626.80 152.00L627.33 150.00L627.88 148.00L628.43 146.00L629.01 144.00L629.59 142.00L630.18 140.00L630.79 138.00L631.41 136.00L632.05 134.00L632.70 132.00L633.35 130.00L634.02 128.00L634.71 126.00L635.40 124.00L636.11 122.00L636.83 120.00L637.56 118.00L638.30 116.00L639.06 114.00L639.82 112.00L640.60 110.00L641.39 108.00L642.19 106.00L643.00 104.00L643.82 102.00L644.66 100.00L645.50 98.00L646.35 96.00L647.21 94.00L648.06 92.00L648.92 90.00L649.77 88.00L650.61 86.00L651.44 84.00L652.25 82.00L653.05 80.00L653.82 78.00L654.57 76.00L655.30 74.00L656.01 72.00L656.70 70.00L657.36 68.00L657.99 66.00L658.61 64.00L659.20 62.00L659.76 60.00L660.30 58.00L660.81 56.00L661.30 54.00L661.76 52.00L662.20 50.00L662.61 48.00L662.99 46.00L663.35 44.00L663.68 42.00L663.99 40.00L664.27 38.00L664.54 36.00L664.78 34.00L665.00 32.00L665.21 30.00L665.39 28.00L665.55 26.00L665.70 24.00L665.83 22.00L665.95 20.00L666.05 18.00L666.14 16.00L666.21 14.00L666.27 12.00L666.32 10.00L666.35 8.00L666.38 6.00L666.40 4.00L666.40 2.00L666.40 0.00Z" fill="#ff4040" fill-opacity="0.12" stroke="none"/>
<path d="M661.11 0.00L661.09 2.00L661.06 4.00L661.00 6.00L660.94 8.00L660.85 10.00L660.75 12.00L660.64 14.00L660.51 16.00L660.36 18.00L660.20 20.00L660.02 22.00L659.82 24.00L659.61 26.00L659.38 28.00L659.14 30.00L658.87 32.00L658.60 34.00L658.30 36.00L657.99 38.00L657.66 40.00L657.31 42.00L656.95 44.00L656.57 46.00L656.18 48.00L655.76 50.00L655.33 52.00L654.88 54.00L654.42 56.00L653.94 58.00L653.44 60.00L652.94 62.00L652.42 64.00L651.88 66.00L651.34 68.00L650.78 70.00L650.21 72.00L649.64 74.00L649.05 76.00L648.46 78.00L647.86 80.00L647.25 82.00L646.64 84.00L646.02 86.00L645.39 88.00L644.76 90.00L644.13 92.00L643.50 94.00L642.86 96.00L642.22 98.00L641.58 100.00L640.94 102.00L640.31 104.00L639.67 106.00L639.03 108.00L638.39 110.00L637.75 112.00L637.10 114.00L636.46 116.00L635.82 118.00L635.17 120.00L634.52 122.00L633.88 124.00L633.23 126.00L632.57 128.00L631.92 130.00L631.26 132.00L630.60 134.00L629.94 136.00L629.28 138.00L628.61 140.00L627.94 142.00L627.27 144.00L626.59 146.00L625.91 148.00L625.22 150.00L624.54 152.00L623.84 154.00L623.15 156.00L622.45 158.00L621.74 160.00L621.03 162.00L620.32 164.00L619.60 166.00L618.88 168.00L618.15 170.00L617.41 172.00L616.67 174.00L615.93 176.00L615.17 178.00L614.42 180.00L613.65 182.00L612.88 184.00L612.10 186.00L611.32 188.00L610.53 190.00L609.73 192.00L608.93 194.00L608.13 196.00L607.32 198.00L606.51 200.00L605.71 202.00L604.91 204.00L604.11 206.00L603.32 208.00L602.54 210.00L601.78 212.00L601.02 214.00L600.28 216.00L599.56 218.00L598.85 220.00L598.17 222.00L597.50 224.00L596.86 226.00L596.25 228.00L595.66 230.00L595.10 232.00L594.57 234.00L594.08 236.00L593.61 238.00L593.19 240.00L592.80 242.00L592.45 244.00L592.14 246.00L591.86 248.00L591.62 250.00L591.42 252.00L591.25 254.00L591.12 256.00L591.02 258.00L590.95 260.00L590.92 262.00L590.93 264.00L590.96 266.00L591.03 268.00L591.13 270.00L591.27 272.00L591.43 274.00L591.63 276.00L591.86 278.00L592.11 280.00L592.40 282.00L592.72 284.00L593.06 286.00L593.44 288.00L593.84 290.00L594.27 292.00L594.73 294.00L595.21 296.00L595.72 298.00L596.26 300.00L596.83 302.00L597.41 304.00L598.03 306.00L598.66 308.00L599.32 310.00L600.01 312.00L600.71 314.00L601.44 316.00L602.19 318.00L602.96 320.00L603.75 322.00L604.57 324.00L605.40 326.00L606.25 328.00L607.12 330.00L608.01 332.00L608.91 334.00L609.84 336.00L610.78 338.00L611.73 340.00L612.71 342.00L613.70 344.00L614.70 346.00L615.72 348.00L616.75 350.00L617.79 352.00L618.85 354.00L619.92 356.00L621.01 358.00L622.10 360.00L623.21 362.00L624.32 364.00L625.45 366.00L626.59 368.00L627.73 370.00L628.89 372.00L630.05 374.00L631.22 376.00L632.40 378.00L640.45 378.00L639.34 376.00L638.26 374.00L637.21 372.00L636.19 370.00L635.19 368.00L634.23 366.00L633.29 364.00L632.37 362.00L631.48 360.00L630.62 358.00L629.78 356.00L628.97 354.00L628.18 352.00L627.42 350.00L626.68 348.00L625.96 346.00L625.27 344.00L624.60 342.00L623.95 340.00L623.33 338.00L622.73 336.00L622.15 334.00L621.59 332.00L621.05 330.00L620.53 328.00L620.04 326.00L619.56 324.00L619.10 322.00L618.67 320.00L618.25 318.00L617.85 316.00L617.47 314.00L617.10 312.00L616.76 310.00L616.43 308.00L616.12 306.00L615.83 304.00L615.55 302.00L615.29 300.00L615.04 298.00L614.81 296.00L614.60 294.00L614.40 292.00L614.21 290.00L614.04 288.00L613.88 286.00L613.74 284.00L613.61 282.00L613.50 280.00L613.40 278.00L613.32 276.00L613.25 274.00L613.20 272.00L613.16 270.00L613.14 268.00L613.14 266.00L613.15 264.00L613.18 262.00L613.22 260.00L613.29 258.00L613.36 256.00L613.46 254.00L613.58 252.00L613.71 250.00L613.86 248.00L614.03 246.00L614.21 244.00L614.42 242.00L614.64 240.00L614.88 238.00L615.14 236.00L615.42 234.00L615.72 232.00L616.04 230.00L616.37 228.00L616.72 226.00L617.08 224.00L617.46 222.00L617.86 220.00L618.28 218.00L618.71 216.00L619.15 214.00L619.61 212.00L620.09 210.00L620.58 208.00L621.08 206.00L621.60 204.00L622.13 202.00L622.67 200.00L623.23 198.00L623.80 196.00L624.38 194.00L624.98 192.00L625.58 190.00L626.20 188.00L626.83 186.00L627.47 184.00L628.11 182.00L628.77 180.00L629.44 178.00L630.11 176.00L630.79 174.00L631.48 172.00L632.17 170.00L632.87 168.00L633.58 166.00L634.28 164.00L635.00 162.00L635.71 160.00L636.43 158.00L637.15 156.00L637.87 154.00L638.59 152.00L639.31 150.00L640.03 148.00L640.75 146.00L641.46 144.00L642.18 142.00L642.89 140.00L643.60 138.00L644.30 136.00L645.00 134.00L645.70 132.00L646.38 130.00L647.07 128.00L647.74 126.00L648.41 124.00L649.06 122.00L649.71 120.00L650.35 118.00L650.98 116.00L651.60 114.00L652.20 112.00L652.80 110.00L653.38 108.00L653.95 106.00L654.50 104.00L655.04 102.00L655.57 100.00L656.08 98.00L656.57 96.00L657.05 94.00L657.51 92.00L657.96 90.00L658.40 88.00L658.81 86.00L659.22 84.00L659.61 82.00L659.98 80.00L660.34 78.00L660.69 76.00L661.03 74.00L661.35 72.00L661.65 70.00L661.94 68.00L662.22 66.00L662.49 64.00L662.75 62.00L662.99 60.00L663.22 58.00L663.43 56.00L663.64 54.00L663.83 52.00L664.01 50.00L664.18 48.00L664.33 46.00L664.48 44.00L664.61 42.00L664.74 40.00L664.85 38.00L664.95 36.00L665.04 34.00L665.12 32.00L665.19 30.00L665.25 28.00L665.30 26.00L665.34 24.00L665.37 22.00L665.39 20.00L665.40 18.00L665.40 16.00L665.39 14.00L665.37 12.00L665.35 10.00L665.31 8.00L665.27 6.00L665.22 4.00L665.16 2.00L665.09 0.00Z" fill="#4040ff" fill-opacity="0.12" stroke="none"/>
<line x1="21.0" y1="127.9" x2="246.0" y2="127.9" stroke="#7e7e7e" stroke-width="1" stroke-dasharray="3.2 0.8"/>
<line x1="21.0" y1="252.4" x2="246.0" y2="252.4" stroke="#7e7e7e" stroke-width="1" stroke-dasharray="3.2 0.8"/>
<rect x="21.0" y="1.3" width="225.0" height="377.4" fill="none" stroke="#cdcdcd" stroke-width="1"/>
<line x1="77.2" y1="378.7" x2="77.2" y2="374.7" stroke="#707070" stroke-width="1"/>
<line x1="77.2" y1="1.3" x2="77.2" y2="5.3" stroke="#707070" stroke-width="1"/>
<line x1="133.5" y1="378.7" x2="133.5" y2="374.7" stroke="#707070" stroke-width="1"/>
<line x1="133.5" y1="1.3" x2="133.5" y2="5.3" stroke="#707070" stroke-width="1"/>
<line x1="189.8" y1="378.7" x2="189.8" y2="374.7" stroke="#707070" stroke-width="1"/>
<line x1="189.8" y1="1.3" x2="189.8" y2="5.3" stroke="#707070" stroke-width="1"/>
<line x1="287.3" y1="128.0" x2="512.1" y2="128.0" stroke="#7e7e7e" stroke-width="1" stroke-dasharray="3.2 0.8"/>
<line x1="287.3" y1="252.9" x2="512.1" y2="252.9" stroke="#7e7e7e" stroke-width="1" stroke-dasharray="3.2 0.8"/>
<rect x="287.3" y="1.3" width="224.8" height="377.4" fill="none" stroke="#cdcdcd" stroke-width="1"/>
<line x1="343.5" y1="378.7" x2="343.5" y2="374.7" stroke="#707070" stroke-width="1"/>
<line x1="343.5" y1="1.3" x2="343.5" y2="5.3" stroke="#707070" stroke-width="1"/>
<line x1="399.7" y1="378.7" x2="399.7" y2="374.7" stroke="#707070" stroke-width="1"/>
<line x1="399.7" y1="1.3" x2="399.7" y2="5.3" stroke="#707070" stroke-width="1"/>
<line x1="455.9" y1="378.7" x2="455.9" y2="374.7" stroke="#707070" stroke-width="1"/>
<line x1="455.9" y1="1.3" x2="455.9" y2="5.3" stroke="#707070" stroke-width="1"/>
<line x1="552.9" y1="127.0" x2="777.1" y2="127.0" stroke="#7e7e7e" stroke-width="1" stroke-dasharray="3.2 0.8"/>
<line x1="552.9" y1="252.4" x2="777.1" y2="252.4" stroke="#7e7e7e" stroke-width="1" stroke-dasharray="3.2 0.8"/>
<rect x="552.9" y="1.3" width="224.2" height="377.4" fill="none" stroke="#cdcdcd" stroke-width="1"/>
<line x1="608.9" y1="378.7" x2="608.9" y2="374.7" stroke="#707070" stroke-width="1"/>
<line x1="608.9" y1="1.3" x2="608.9" y2="5.3" stroke="#707070" stroke-width="1"/>
<line x1="665.0" y1="378.7" x2="665.0" y2="374.7" stroke="#707070" stroke-width="1"/>
<line x1="665.0" y1="1.3" x2="665.0" y2="5.3" stroke="#707070" stroke-width="1"/>
<line x1="721.0" y1="378.7" x2="721.0" y2="374.7" stroke="#707070" stroke-width="1"/>
<line x1="721.0" y1="1.3" x2="721.0" y2="5.3" stroke="#707070" stroke-width="1"/>
<path d="M127.08 0.00L126.92 2.00L126.76 4.00L126.59 6.00L126.42 8.00L126.24 10.00L126.05 12.00L125.85 14.00L125.65 16.00L125.44 18.00L125.22 20.00L125.00 22.00L124.76 24.00L124.52 26.00L124.27 28.00L124.01 30.00L123.73 32.00L123.45 34.00L123.16 36.00L122.85 38.00L122.54 40.00L122.21 42.00L121.87 44.00L121.52 46.00L121.16 48.00L120.78 50.00L120.39 52.00L119.99 54.00L119.57 56.00L119.14 58.00L118.69 60.00L118.23 62.00L117.75 64.00L117.26 66.00L116.75 68.00L116.23 70.00L115.69 72.00L115.13 74.00L114.55 76.00L113.96 78.00L113.35 80.00L112.72 82.00L112.07 84.00L111.40 86.00L110.72 88.00L110.01 90.00L109.29 92.00L108.54 94.00L107.77 96.00L106.99 98.00L106.18 100.00L105.36 102.00L104.53 104.00L103.68 106.00L102.82 108.00L101.96 110.00L101.10 112.00L100.23 114.00L99.37 116.00L98.51 118.00L97.66 120.00L96.81 122.00L95.98 124.00L95.16 126.00L94.35 128.00L93.57 130.00L92.80 132.00L92.06 134.00L91.35 136.00L90.66 138.00L90.00 140.00L89.36 142.00L88.75 144.00L88.15 146.00L87.57 148.00L87.01 150.00L86.46 152.00L85.91 154.00L85.38 156.00L84.85 158.00L84.32 160.00L83.79 162.00L83.26 164.00L82.73 166.00L82.19 168.00L81.65 170.00L81.11 172.00L80.57 174.00L80.04 176.00L79.52 178.00L79.01 180.00L78.52 182.00L78.06 184.00L77.62 186.00L77.20 188.00L76.82 190.00L76.47 192.00L76.16 194.00L75.88 196.00L75.64 198.00L75.43 200.00L75.25 202.00L75.10 204.00L74.98 206.00L74.89 208.00L74.83 210.00L74.80 212.00L74.80 214.00L74.82 216.00L74.87 218.00L74.95 220.00L75.05 222.00L75.18 224.00L75.33 226.00L75.50 228.00L75.70 230.00L75.91 232.00L76.15 234.00L76.41 236.00L76.68 238.00L76.98 240.00L77.30 242.00L77.63 244.00L77.98 246.00L78.34 248.00L78.72 250.00L79.12 252.00L79.53 254.00L79.95 256.00L80.39 258.00L80.84 260.00L81.30 262.00L81.77 264.00L82.26 266.00L82.75 268.00L83.25 270.00L83.76 272.00L84.28 274.00L84.81 276.00L85.34 278.00L85.88 280.00L86.43 282.00L86.98 284.00L87.53 286.00L88.09 288.00L88.65 290.00L89.22 292.00L89.79 294.00L90.35 296.00L90.93 298.00L91.50 300.00L92.08 302.00L92.66 304.00L93.25 306.00L93.83 308.00L94.43 310.00L95.02 312.00L95.62 314.00L96.22 316.00L96.83 318.00L97.44 320.00L98.06 322.00L98.68 324.00L99.30 326.00L99.93 328.00L100.56 330.00L101.20 332.00L101.85 334.00L102.50 336.00L103.15 338.00L103.81 340.00L104.48 342.00L105.15 344.00L105.82 346.00L106.51 348.00L107.20 350.00L107.89 352.00L108.59 354.00L109.30 356.00L110.02 358.00L110.74 360.00L111.46 362.00L112.20 364.00L112.94 366.00L113.69 368.00L114.45 370.00L115.21 372.00L115.98 374.00L116.76 376.00L117.55 378.00" fill="none" stroke="#eea050" stroke-width="1.6" stroke-linejoin="round" stroke-linecap="butt"/>
<path d="M129.67 0.00L129.58 2.00L129.46 4.00L129.33 6.00L129.17 8.00L128.99 10.00L128.78 12.00L128.56 14.00L128.31 16.00L128.05 18.00L127.76 20.00L127.45 22.00L127.12 24.00L126.77 26.00L126.39 28.00L126.00 30.00L125.59 32.00L125.16 34.00L124.71 36.00L124.24 38.00L123.75 40.00L123.24 42.00L122.71 44.00L122.16 46.00L121.60 48.00L121.02 50.00L120.41 52.00L119.80 54.00L119.16 56.00L118.51 58.00L117.84 60.00L117.16 62.00L116.47 64.00L115.76 66.00L115.03 68.00L114.30 70.00L113.55 72.00L112.79 74.00L112.02 76.00L111.24 78.00L110.45 80.00L109.65 82.00L108.84 84.00L108.02 86.00L107.20 88.00L106.37 90.00L105.53 92.00L104.69 94.00L103.84 96.00L102.99 98.00L102.13 100.00L101.28 102.00L100.42 104.00L99.56 106.00L98.70 108.00L97.84 110.00L96.98 112.00L96.13 114.00L95.29 116.00L94.44 118.00L93.61 120.00L92.78 122.00L91.96 124.00L91.15 126.00L90.35 128.00L89.57 130.00L88.79 132.00L88.03 134.00L87.28 136.00L86.55 138.00L85.83 140.00L85.13 142.00L84.45 144.00L83.78 146.00L83.14 148.00L82.50 150.00L81.89 152.00L81.30 154.00L80.72 156.00L80.17 158.00L79.63 160.00L79.12 162.00L78.62 164.00L78.15 166.00L77.70 168.00L77.27 170.00L76.86 172.00L76.47 174.00L76.11 176.00L75.77 178.00L75.45 180.00L75.16 182.00L74.90 184.00L74.66 186.00L74.44 188.00L74.25 190.00L74.08 192.00L73.95 194.00L73.83 196.00L73.74 198.00L73.68 200.00L73.64 202.00L73.62 204.00L73.63 206.00L73.66 208.00L73.71 210.00L73.78 212.00L73.87 214.00L73.98 216.00L74.11 218.00L74.27 220.00L74.44 222.00L74.62 224.00L74.83 226.00L75.06 228.00L75.30 230.00L75.56 232.00L75.83 234.00L76.12 236.00L76.42 238.00L76.74 240.00L77.07 242.00L77.42 244.00L77.78 246.00L78.15 248.00L78.54 250.00L78.93 252.00L79.34 254.00L79.76 256.00L80.18 258.00L80.62 260.00L81.07 262.00L81.52 264.00L81.99 266.00L82.46 268.00L82.93 270.00L83.42 272.00L83.91 274.00L84.41 276.00L84.91 278.00L85.42 280.00L85.93 282.00L86.44 284.00L86.96 286.00L87.48 288.00L88.01 290.00L88.53 292.00L89.06 294.00L89.59 296.00L90.12 298.00L90.65 300.00L91.19 302.00L91.72 304.00L92.26 306.00L92.80 308.00L93.35 310.00L93.89 312.00L94.44 314.00L94.99 316.00L95.54 318.00L96.09 320.00L96.64 322.00L97.20 324.00L97.75 326.00L98.31 328.00L98.88 330.00L99.44 332.00L100.01 334.00L100.57 336.00L101.14 338.00L101.71 340.00L102.29 342.00L102.86 344.00L103.44 346.00L104.02 348.00L104.60 350.00L105.18 352.00L105.77 354.00L106.36 356.00L106.94 358.00L107.54 360.00L108.13 362.00L108.72 364.00L109.32 366.00L109.92 368.00L110.52 370.00L111.13 372.00L111.73 374.00L112.34 376.00L112.95 378.00" fill="none" stroke="#1e96aa" stroke-width="1.6" stroke-linejoin="round" stroke-linecap="butt"/>
<path d="M397.84 0.00L397.41 2.00L396.99 4.00L396.58 6.00L396.17 8.00L395.77 10.00L395.37 12.00L394.98 14.00L394.58 16.00L394.19 18.00L393.79 20.00L393.39 22.00L392.99 24.00L392.58 26.00L392.17 28.00L391.74 30.00L391.31 32.00L390.87 34.00L390.42 36.00L389.95 38.00L389.47 40.00L388.97 42.00L388.45 44.00L387.92 46.00L387.36 48.00L386.79 50.00L386.19 52.00L385.57 54.00L384.93 56.00L384.27 58.00L383.59 60.00L382.89 62.00L382.18 64.00L381.46 66.00L380.71 68.00L379.96 70.00L379.19 72.00L378.41 74.00L377.62 76.00L376.82 78.00L376.01 80.00L375.20 82.00L374.38 84.00L373.55 86.00L372.72 88.00L371.88 90.00L371.05 92.00L370.21 94.00L369.37 96.00L368.54 98.00L367.70 100.00L366.87 102.00L366.04 104.00L365.21 106.00L364.39 108.00L363.57 110.00L362.76 112.00L361.96 114.00L361.16 116.00L360.36 118.00L359.58 120.00L358.80 122.00L358.03 124.00L357.27 126.00L356.52 128.00L355.78 130.00L355.05 132.00L354.33 134.00L353.62 136.00L352.92 138.00L352.23 140.00L351.56 142.00L350.90 144.00L350.25 146.00L349.62 148.00L349.00 150.00L348.40 152.00L347.81 154.00L347.24 156.00L346.69 158.00L346.15 160.00L345.63 162.00L345.13 164.00L344.65 166.00L344.18 168.00L343.74 170.00L343.31 172.00L342.91 174.00L342.53 176.00L342.16 178.00L341.83 180.00L341.51 182.00L341.21 184.00L340.94 186.00L340.70 188.00L340.48 190.00L340.28 192.00L340.11 194.00L339.96 196.00L339.84 198.00L339.75 200.00L339.69 202.00L339.65 204.00L339.64 206.00L339.66 208.00L339.70 210.00L339.77 212.00L339.86 214.00L339.98 216.00L340.12 218.00L340.28 220.00L340.46 222.00L340.67 224.00L340.89 226.00L341.14 228.00L341.40 230.00L341.68 232.00L341.98 234.00L342.30 236.00L342.63 238.00L342.98 240.00L343.35 242.00L343.73 244.00L344.12 246.00L344.52 248.00L344.94 250.00L345.37 252.00L345.81 254.00L346.26 256.00L346.72 258.00L347.19 260.00L347.66 262.00L348.15 264.00L348.64 266.00L349.13 268.00L349.64 270.00L350.14 272.00L350.66 274.00L351.17 276.00L351.69 278.00L352.21 280.00L352.73 282.00L353.25 284.00L353.77 286.00L354.29 288.00L354.81 290.00L355.33 292.00L355.84 294.00L356.36 296.00L356.87 298.00L357.38 300.00L357.89 302.00L358.40 304.00L358.91 306.00L359.42 308.00L359.93 310.00L360.44 312.00L360.95 314.00L361.47 316.00L361.98 318.00L362.49 320.00L363.01 322.00L363.53 324.00L364.05 326.00L364.57 328.00L365.10 330.00L365.63 332.00L366.16 334.00L366.69 336.00L367.23 338.00L367.77 340.00L368.32 342.00L368.87 344.00L369.42 346.00L369.99 348.00L370.55 350.00L371.12 352.00L371.70 354.00L372.28 356.00L372.87 358.00L373.46 360.00L374.06 362.00L374.67 364.00L375.29 366.00L375.91 368.00L376.54 370.00L377.18 372.00L377.82 374.00L378.48 376.00L379.14 378.00" fill="none" stroke="#2aa0aa" stroke-width="1.6" stroke-linejoin="round" stroke-linecap="butt"/>
<path d="M397.90 0.00L397.95 2.00L398.00 4.00L398.04 6.00L398.08 8.00L398.11 10.00L398.14 12.00L398.16 14.00L398.17 16.00L398.17 18.00L398.17 20.00L398.17 22.00L398.15 24.00L398.13 26.00L398.11 28.00L398.07 30.00L398.04 32.00L397.99 34.00L397.94 36.00L397.88 38.00L397.82 40.00L397.75 42.00L397.67 44.00L397.58 46.00L397.49 48.00L397.40 50.00L397.29 52.00L397.18 54.00L397.07 56.00L396.94 58.00L396.81 60.00L396.68 62.00L396.53 64.00L396.38 66.00L396.23 68.00L396.06 70.00L395.89 72.00L395.72 74.00L395.53 76.00L395.34 78.00L395.15 80.00L394.94 82.00L394.73 84.00L394.51 86.00L394.29 88.00L394.06 90.00L393.82 92.00L393.58 94.00L393.32 96.00L393.07 98.00L392.80 100.00L392.53 102.00L392.25 104.00L391.96 106.00L391.67 108.00L391.36 110.00L391.06 112.00L390.74 114.00L390.42 116.00L390.09 118.00L389.75 120.00L389.41 122.00L389.06 124.00L388.70 126.00L388.34 128.00L387.96 130.00L387.58 132.00L387.20 134.00L386.80 136.00L386.40 138.00L385.99 140.00L385.58 142.00L385.16 144.00L384.72 146.00L384.29 148.00L383.84 150.00L383.39 152.00L382.93 154.00L382.46 156.00L381.99 158.00L381.50 160.00L381.01 162.00L380.52 164.00L380.01 166.00L379.50 168.00L378.98 170.00L378.45 172.00L377.92 174.00L377.38 176.00L376.83 178.00L376.27 180.00L375.70 182.00L375.13 184.00L374.55 186.00L373.96 188.00L373.36 190.00L372.76 192.00L372.15 194.00L371.53 196.00L370.90 198.00L370.27 200.00L369.62 202.00L368.97 204.00L368.31 206.00L367.65 208.00L366.97 210.00L366.29 212.00L365.60 214.00L364.91 216.00L364.20 218.00L363.49 220.00L362.77 222.00L362.04 224.00L361.30 226.00L360.55 228.00L359.80 230.00L359.04 232.00L358.27 234.00L357.50 236.00L356.71 238.00L355.92 240.00L355.12 242.00L354.31 244.00L353.50 246.00L352.67 248.00L351.84 250.00L351.00 252.00L350.15 254.00L349.30 256.00L348.44 258.00L347.59 260.00L346.73 262.00L345.88 264.00L345.04 266.00L344.20 268.00L343.38 270.00L342.57 272.00L341.78 274.00L341.01 276.00L340.26 278.00L339.53 280.00L338.83 282.00L338.16 284.00L337.52 286.00L336.92 288.00L336.35 290.00L335.82 292.00L335.34 294.00L334.89 296.00L334.50 298.00L334.15 300.00L333.85 302.00L333.61 304.00L333.42 306.00L333.28 308.00L333.20 310.00L333.17 312.00L333.20 314.00L333.29 316.00L333.43 318.00L333.64 320.00L333.90 322.00L334.22 324.00L334.61 326.00L335.06 328.00L335.57 330.00L336.15 332.00L336.79 334.00L337.50 336.00L338.27 338.00L339.12 340.00L340.03 342.00L341.01 344.00L342.06 346.00L343.18 348.00L344.37 350.00L345.64 352.00L346.98 354.00L348.39 356.00L349.88 358.00L351.44 360.00L353.08 362.00L354.80 364.00L356.60 366.00L358.48 368.00L360.44 370.00L362.48 372.00L364.60 374.00L366.80 376.00L369.09 378.00" fill="none" stroke="#1e1e1e" stroke-width="1.6" stroke-linejoin="round" stroke-linecap="butt"/>
<path d="M398.08 0.00L398.01 2.00L397.93 4.00L397.85 6.00L397.76 8.00L397.67 10.00L397.58 12.00L397.48 14.00L397.37 16.00L397.26 18.00L397.14 20.00L397.01 22.00L396.88 24.00L396.74 26.00L396.59 28.00L396.43 30.00L396.27 32.00L396.10 34.00L395.92 36.00L395.73 38.00L395.53 40.00L395.32 42.00L395.10 44.00L394.87 46.00L394.63 48.00L394.38 50.00L394.11 52.00L393.84 54.00L393.55 56.00L393.25 58.00L392.94 60.00L392.62 62.00L392.28 64.00L391.93 66.00L391.57 68.00L391.19 70.00L390.79 72.00L390.38 74.00L389.96 76.00L389.52 78.00L389.07 80.00L388.60 82.00L388.11 84.00L387.60 86.00L387.08 88.00L386.55 90.00L385.99 92.00L385.42 94.00L384.82 96.00L384.21 98.00L383.58 100.00L382.93 102.00L382.27 104.00L381.59 106.00L380.90 108.00L380.19 110.00L379.48 112.00L378.77 114.00L378.05 116.00L377.33 118.00L376.61 120.00L375.89 122.00L375.18 124.00L374.48 126.00L373.78 128.00L373.10 130.00L372.43 132.00L371.77 134.00L371.11 136.00L370.46 138.00L369.81 140.00L369.17 142.00L368.53 144.00L367.88 146.00L367.24 148.00L366.60 150.00L365.96 152.00L365.31 154.00L364.66 156.00L364.00 158.00L363.35 160.00L362.69 162.00L362.03 164.00L361.36 166.00L360.69 168.00L360.02 170.00L359.35 172.00L358.67 174.00L357.99 176.00L357.31 178.00L356.63 180.00L355.94 182.00L355.25 184.00L354.56 186.00L353.86 188.00L353.16 190.00L352.46 192.00L351.76 194.00L351.06 196.00L350.36 198.00L349.66 200.00L348.96 202.00L348.27 204.00L347.59 206.00L346.92 208.00L346.25 210.00L345.59 212.00L344.95 214.00L344.32 216.00L343.71 218.00L343.11 220.00L342.53 222.00L341.96 224.00L341.42 226.00L340.90 228.00L340.40 230.00L339.92 232.00L339.48 234.00L339.05 236.00L338.66 238.00L338.29 240.00L337.96 242.00L337.66 244.00L337.38 246.00L337.14 248.00L336.94 250.00L336.76 252.00L336.61 254.00L336.49 256.00L336.40 258.00L336.34 260.00L336.30 262.00L336.30 264.00L336.32 266.00L336.37 268.00L336.44 270.00L336.54 272.00L336.67 274.00L336.82 276.00L336.99 278.00L337.19 280.00L337.42 282.00L337.66 284.00L337.93 286.00L338.22 288.00L338.54 290.00L338.87 292.00L339.23 294.00L339.61 296.00L340.01 298.00L340.42 300.00L340.86 302.00L341.32 304.00L341.80 306.00L342.30 308.00L342.82 310.00L343.35 312.00L343.91 314.00L344.48 316.00L345.07 318.00L345.68 320.00L346.31 322.00L346.95 324.00L347.61 326.00L348.29 328.00L348.98 330.00L349.70 332.00L350.42 334.00L351.16 336.00L351.92 338.00L352.70 340.00L353.48 342.00L354.29 344.00L355.11 346.00L355.94 348.00L356.78 350.00L357.64 352.00L358.52 354.00L359.40 356.00L360.30 358.00L361.21 360.00L362.14 362.00L363.07 364.00L364.02 366.00L364.98 368.00L365.95 370.00L366.94 372.00L367.93 374.00L368.93 376.00L369.95 378.00" fill="none" stroke="#3a3aff" stroke-width="1.6" stroke-linejoin="round" stroke-linecap="butt"/>
<path d="M664.03 0.00L663.89 2.00L663.74 4.00L663.58 6.00L663.39 8.00L663.20 10.00L662.98 12.00L662.76 14.00L662.51 16.00L662.26 18.00L661.98 20.00L661.70 22.00L661.40 24.00L661.09 26.00L660.76 28.00L660.42 30.00L660.07 32.00L659.70 34.00L659.32 36.00L658.93 38.00L658.53 40.00L658.12 42.00L657.69 44.00L657.26 46.00L656.81 48.00L656.35 50.00L655.88 52.00L655.40 54.00L654.91 56.00L654.41 58.00L653.90 60.00L653.39 62.00L652.86 64.00L652.32 66.00L651.78 68.00L651.23 70.00L650.66 72.00L650.10 74.00L649.52 76.00L648.93 78.00L648.34 80.00L647.74 82.00L647.14 84.00L646.53 86.00L645.91 88.00L645.29 90.00L644.66 92.00L644.02 94.00L643.38 96.00L642.74 98.00L642.09 100.00L641.43 102.00L640.77 104.00L640.11 106.00L639.44 108.00L638.78 110.00L638.11 112.00L637.44 114.00L636.76 116.00L636.09 118.00L635.42 120.00L634.75 122.00L634.08 124.00L633.41 126.00L632.74 128.00L632.08 130.00L631.42 132.00L630.77 134.00L630.12 136.00L629.47 138.00L628.83 140.00L628.20 142.00L627.57 144.00L626.95 146.00L626.34 148.00L625.73 150.00L625.14 152.00L624.55 154.00L623.97 156.00L623.41 158.00L622.85 160.00L622.31 162.00L621.78 164.00L621.26 166.00L620.75 168.00L620.26 170.00L619.78 172.00L619.32 174.00L618.87 176.00L618.44 178.00L618.02 180.00L617.62 182.00L617.24 184.00L616.87 186.00L616.53 188.00L616.20 190.00L615.89 192.00L615.60 194.00L615.34 196.00L615.08 198.00L614.85 200.00L614.64 202.00L614.44 204.00L614.26 206.00L614.10 208.00L613.96 210.00L613.83 212.00L613.72 214.00L613.63 216.00L613.55 218.00L613.49 220.00L613.45 222.00L613.42 224.00L613.40 226.00L613.40 228.00L613.42 230.00L613.45 232.00L613.49 234.00L613.55 236.00L613.62 238.00L613.70 240.00L613.80 242.00L613.91 244.00L614.04 246.00L614.17 248.00L614.32 250.00L614.48 252.00L614.66 254.00L614.84 256.00L615.04 258.00L615.24 260.00L615.46 262.00L615.69 264.00L615.93 266.00L616.18 268.00L616.43 270.00L616.70 272.00L616.98 274.00L617.26 276.00L617.56 278.00L617.86 280.00L618.17 282.00L618.49 284.00L618.82 286.00L619.16 288.00L619.50 290.00L619.85 292.00L620.20 294.00L620.57 296.00L620.94 298.00L621.31 300.00L621.69 302.00L622.08 304.00L622.47 306.00L622.87 308.00L623.27 310.00L623.67 312.00L624.08 314.00L624.50 316.00L624.92 318.00L625.34 320.00L625.76 322.00L626.19 324.00L626.62 326.00L627.06 328.00L627.49 330.00L627.93 332.00L628.37 334.00L628.81 336.00L629.26 338.00L629.70 340.00L630.15 342.00L630.59 344.00L631.04 346.00L631.48 348.00L631.93 350.00L632.38 352.00L632.82 354.00L633.26 356.00L633.71 358.00L634.15 360.00L634.59 362.00L635.03 364.00L635.46 366.00L635.90 368.00L636.33 370.00L636.76 372.00L637.18 374.00L637.60 376.00L638.02 378.00" fill="none" stroke="#46b43c" stroke-width="1.6" stroke-linejoin="round" stroke-linecap="butt"/>
<path d="M664.25 0.00L664.08 2.00L663.89 4.00L663.67 6.00L663.44 8.00L663.18 10.00L662.90 12.00L662.60 14.00L662.28 16.00L661.94 18.00L661.58 20.00L661.20 22.00L660.81 24.00L660.39 26.00L659.96 28.00L659.51 30.00L659.04 32.00L658.56 34.00L658.06 36.00L657.55 38.00L657.02 40.00L656.48 42.00L655.92 44.00L655.35 46.00L654.77 48.00L654.17 50.00L653.57 52.00L652.95 54.00L652.32 56.00L651.67 58.00L651.02 60.00L650.36 62.00L649.69 64.00L649.01 66.00L648.33 68.00L647.63 70.00L646.93 72.00L646.22 74.00L645.50 76.00L644.78 78.00L644.05 80.00L643.32 82.00L642.58 84.00L641.84 86.00L641.09 88.00L640.34 90.00L639.59 92.00L638.83 94.00L638.07 96.00L637.32 98.00L636.56 100.00L635.80 102.00L635.04 104.00L634.28 106.00L633.52 108.00L632.76 110.00L632.00 112.00L631.25 114.00L630.50 116.00L629.75 118.00L629.00 120.00L628.26 122.00L627.53 124.00L626.80 126.00L626.07 128.00L625.36 130.00L624.64 132.00L623.94 134.00L623.24 136.00L622.55 138.00L621.87 140.00L621.20 142.00L620.54 144.00L619.88 146.00L619.24 148.00L618.61 150.00L617.99 152.00L617.38 154.00L616.78 156.00L616.20 158.00L615.62 160.00L615.06 162.00L614.51 164.00L613.98 166.00L613.45 168.00L612.94 170.00L612.44 172.00L611.95 174.00L611.48 176.00L611.02 178.00L610.57 180.00L610.13 182.00L609.71 184.00L609.31 186.00L608.91 188.00L608.53 190.00L608.17 192.00L607.81 194.00L607.47 196.00L607.15 198.00L606.84 200.00L606.55 202.00L606.27 204.00L606.00 206.00L605.75 208.00L605.52 210.00L605.30 212.00L605.09 214.00L604.90 216.00L604.73 218.00L604.57 220.00L604.43 222.00L604.30 224.00L604.19 226.00L604.09 228.00L604.02 230.00L603.95 232.00L603.91 234.00L603.88 236.00L603.87 238.00L603.87 240.00L603.89 242.00L603.93 244.00L603.99 246.00L604.06 248.00L604.15 250.00L604.26 252.00L604.39 254.00L604.53 256.00L604.69 258.00L604.87 260.00L605.07 262.00L605.29 264.00L605.52 266.00L605.78 268.00L606.05 270.00L606.34 272.00L606.65 274.00L606.98 276.00L607.33 278.00L607.70 280.00L608.08 282.00L608.49 284.00L608.92 286.00L609.36 288.00L609.83 290.00L610.31 292.00L610.82 294.00L611.34 296.00L611.89 298.00L612.45 300.00L613.04 302.00L613.64 304.00L614.26 306.00L614.90 308.00L615.56 310.00L616.23 312.00L616.93 314.00L617.64 316.00L618.37 318.00L619.11 320.00L619.88 322.00L620.66 324.00L621.45 326.00L622.27 328.00L623.10 330.00L623.94 332.00L624.81 334.00L625.69 336.00L626.58 338.00L627.49 340.00L628.42 342.00L629.36 344.00L630.31 346.00L631.28 348.00L632.26 350.00L633.26 352.00L634.28 354.00L635.30 356.00L636.34 358.00L637.40 360.00L638.47 362.00L639.55 364.00L640.64 366.00L641.75 368.00L642.87 370.00L644.00 372.00L645.14 374.00L646.30 376.00L647.47 378.00" fill="none" stroke="#e43a44" stroke-width="1.6" stroke-linejoin="round" stroke-linecap="butt"/>
<path d="M663.10 0.00L663.13 2.00L663.15 4.00L663.15 6.00L663.14 8.00L663.12 10.00L663.08 12.00L663.03 14.00L662.96 16.00L662.88 18.00L662.78 20.00L662.67 22.00L662.55 24.00L662.41 26.00L662.26 28.00L662.10 30.00L661.93 32.00L661.74 34.00L661.53 36.00L661.32 38.00L661.09 40.00L660.85 42.00L660.60 44.00L660.33 46.00L660.05 48.00L659.76 50.00L659.46 52.00L659.14 54.00L658.81 56.00L658.47 58.00L658.12 60.00L657.76 62.00L657.39 64.00L657.00 66.00L656.60 68.00L656.19 70.00L655.77 72.00L655.34 74.00L654.90 76.00L654.44 78.00L653.98 80.00L653.50 82.00L653.02 84.00L652.52 86.00L652.01 88.00L651.49 90.00L650.96 92.00L650.43 94.00L649.88 96.00L649.32 98.00L648.75 100.00L648.17 102.00L647.58 104.00L646.99 106.00L646.38 108.00L645.77 110.00L645.14 112.00L644.51 114.00L643.87 116.00L643.23 118.00L642.58 120.00L641.92 122.00L641.25 124.00L640.58 126.00L639.90 128.00L639.22 130.00L638.53 132.00L637.84 134.00L637.14 136.00L636.44 138.00L635.74 140.00L635.03 142.00L634.32 144.00L633.60 146.00L632.89 148.00L632.17 150.00L631.45 152.00L630.73 154.00L630.00 156.00L629.28 158.00L628.55 160.00L627.83 162.00L627.11 164.00L626.38 166.00L625.66 168.00L624.94 170.00L624.22 172.00L623.50 174.00L622.78 176.00L622.06 178.00L621.35 180.00L620.64 182.00L619.94 184.00L619.23 186.00L618.54 188.00L617.84 190.00L617.15 192.00L616.47 194.00L615.79 196.00L615.12 198.00L614.46 200.00L613.81 202.00L613.16 204.00L612.53 206.00L611.91 208.00L611.30 210.00L610.70 212.00L610.11 214.00L609.55 216.00L608.99 218.00L608.45 220.00L607.93 222.00L607.43 224.00L606.95 226.00L606.49 228.00L606.04 230.00L605.62 232.00L605.22 234.00L604.84 236.00L604.49 238.00L604.16 240.00L603.86 242.00L603.58 244.00L603.33 246.00L603.10 248.00L602.90 250.00L602.72 252.00L602.57 254.00L602.44 256.00L602.34 258.00L602.26 260.00L602.20 262.00L602.17 264.00L602.17 266.00L602.19 268.00L602.23 270.00L602.29 272.00L602.38 274.00L602.50 276.00L602.63 278.00L602.79 280.00L602.98 282.00L603.18 284.00L603.41 286.00L603.66 288.00L603.94 290.00L604.24 292.00L604.56 294.00L604.90 296.00L605.27 298.00L605.65 300.00L606.06 302.00L606.49 304.00L606.95 306.00L607.42 308.00L607.92 310.00L608.43 312.00L608.97 314.00L609.53 316.00L610.11 318.00L610.71 320.00L611.33 322.00L611.97 324.00L612.63 326.00L613.31 328.00L614.02 330.00L614.74 332.00L615.48 334.00L616.24 336.00L617.02 338.00L617.81 340.00L618.63 342.00L619.47 344.00L620.32 346.00L621.20 348.00L622.09 350.00L623.00 352.00L623.92 354.00L624.87 356.00L625.83 358.00L626.82 360.00L627.81 362.00L628.83 364.00L629.86 366.00L630.91 368.00L631.98 370.00L633.06 372.00L634.16 374.00L635.28 376.00L636.41 378.00" fill="none" stroke="#3028f2" stroke-width="1.6" stroke-linejoin="round" stroke-linecap="butt"/>
<rect x="181.5" y="4.5" width="61.5" height="31.0" fill="#fff" stroke="#cacaca" stroke-width="1"/>
<line x1="185.0" y1="12.4" x2="201.5" y2="12.4" stroke="#eea050" stroke-width="1.5"/>
<text x="204.1" y="15.8" class="lg" textLength="35.6" lengthAdjust="spacingAndGlyphs">Baseline</text>
<line x1="185.0" y1="27.0" x2="201.5" y2="27.0" stroke="#1e96aa" stroke-width="1.5"/>
<text x="204.1" y="30.4" class="lg" textLength="16.2" lengthAdjust="spacingAndGlyphs">Ctrl</text>
<rect x="461.5" y="4.5" width="48.0" height="46.0" fill="#fff" stroke="#cacaca" stroke-width="1"/>
<line x1="465.0" y1="12.4" x2="481.5" y2="12.4" stroke="#48b4c4" stroke-width="1.5"/>
<text x="483.5" y="15.8" class="lgr">Ctrl</text>
<line x1="465.0" y1="27.0" x2="481.5" y2="27.0" stroke="#101010" stroke-width="1.5"/>
<text x="483.5" y="30.4" class="lgr">Stat</text>
<line x1="465.0" y1="41.6" x2="481.5" y2="41.6" stroke="#4040ff" stroke-width="1.5"/>
<text x="483.5" y="45.0" class="lgr">Dyn1</text>
<rect x="726.5" y="4.5" width="48.0" height="46.0" fill="#fff" stroke="#cacaca" stroke-width="1"/>
<line x1="730.0" y1="12.4" x2="746.5" y2="12.4" stroke="#4848ff" stroke-width="1.5"/>
<text x="748.5" y="15.8" class="lg">Dyn1</text>
<line x1="730.0" y1="27.0" x2="746.5" y2="27.0" stroke="#44c444" stroke-width="1.5"/>
<text x="748.5" y="30.4" class="lg">Dyn2</text>
<line x1="730.0" y1="41.6" x2="746.5" y2="41.6" stroke="#ff4040" stroke-width="1.5"/>
<text x="748.5" y="45.0" class="lg">Dyn3</text>
<text transform="translate(19.6 393.1) scale(1 1.16)" class="tl">-0.2</text>
<text transform="translate(75.8 393.1) scale(1 1.16)" class="tl">-0.1</text>
<text transform="translate(133.5 393.1) scale(1 1.16)" class="tl">0</text>
<text transform="translate(189.8 393.1) scale(1 1.16)" class="tl">0.1</text>
<text transform="translate(246.0 393.1) scale(1 1.16)" class="tl">0.2</text>
<text transform="translate(285.9 393.1) scale(1 1.16)" class="tl">-0.2</text>
<text transform="translate(342.1 393.1) scale(1 1.16)" class="tl">-0.1</text>
<text transform="translate(399.7 393.1) scale(1 1.16)" class="tl">0</text>
<text transform="translate(455.9 393.1) scale(1 1.16)" class="tl">0.1</text>
<text transform="translate(512.1 393.1) scale(1 1.16)" class="tl">0.2</text>
<text transform="translate(551.5 393.1) scale(1 1.16)" class="tl">-0.2</text>
<text transform="translate(607.5 393.1) scale(1 1.16)" class="tl">-0.1</text>
<text transform="translate(665.0 393.1) scale(1 1.16)" class="tl">0</text>
<text transform="translate(721.0 393.1) scale(1 1.16)" class="tl">0.1</text>
<text transform="translate(777.1 393.1) scale(1 1.16)" class="tl">0.2</text>
<text transform="translate(133.5 410.4) scale(1 1.2)" class="xl">Strain</text>
<text x="133.5" y="431.8" class="pl">(a)</text>
<text transform="translate(399.7 410.4) scale(1 1.2)" class="xl">Strain</text>
<text x="399.7" y="431.8" class="pl">(b)</text>
<text transform="translate(665.0 410.4) scale(1 1.2)" class="xl">Strain</text>
<text x="665.0" y="431.8" class="pl">(c)</text>
<text transform="translate(11.0 190.2) rotate(-90) scale(0.894 1)" class="yl">Normalized depth</text>
<text transform="translate(278.6 190.8) rotate(-90) scale(0.867 1)" class="yl">Normalized depth</text>
<text transform="translate(542.7 189.4) rotate(-90) scale(0.867 1)" class="yl">Normalized depth</text>
<text transform="translate(48.0 60.6) rotate(-90) scale(0.880 1)" class="rl">Reserve</text>
<text transform="translate(48.0 183.5) rotate(-90) scale(0.880 1)" class="rl">Proliferative</text>
<text transform="translate(48.0 309.0) rotate(-90) scale(0.880 1)" class="rl">Hypertrophic</text>
<text transform="translate(312.2 60.6) rotate(-90) scale(0.880 1)" class="rl">Reserve</text>
<text transform="translate(312.2 183.5) rotate(-90) scale(0.880 1)" class="rl">Proliferative</text>
<text transform="translate(312.2 309.0) rotate(-90) scale(0.880 1)" class="rl">Hypertrophic</text>
<text transform="translate(578.3 60.6) rotate(-90) scale(0.880 1)" class="rl">Reserve</text>
<text transform="translate(578.3 183.5) rotate(-90) scale(0.880 1)" class="rl">Proliferative</text>
<text transform="translate(578.3 309.0) rotate(-90) scale(0.880 1)" class="rl">Hypertrophic</text>
</svg>
</body></html>
